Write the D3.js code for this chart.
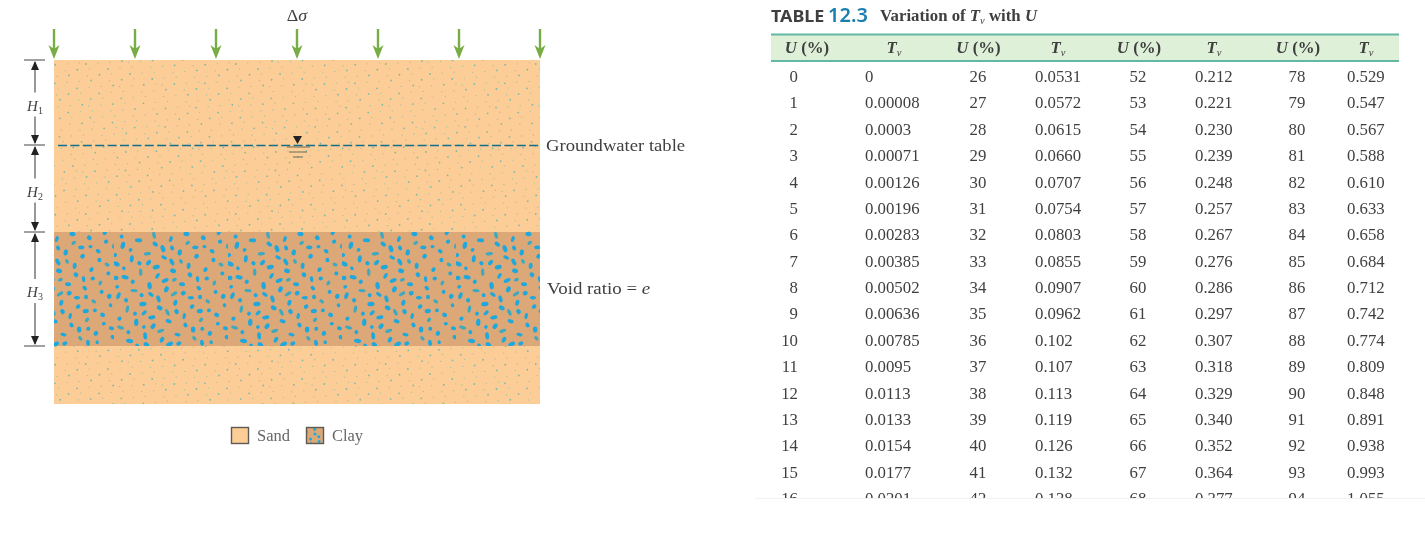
<!DOCTYPE html>
<html>
<head>
<meta charset="utf-8">
<script src="https://cdn.jsdelivr.net/npm/d3@7/dist/d3.min.js"></script>
<style>
body { margin: 0; background: #fff; }
svg { display: block; filter: blur(0.45px); }
text { font-family: "Liberation Serif", serif; fill: #3f3f3f; }
</style>
</head>
<body>
<div id="chart"></div>
<script>
// soil profile, thickness of each layer
const layerNames = ["H1", "H2", "H3", "bottom"];
const layerThickness = [85, 87, 114, 58];
const layerLabels = ["1", "2", "3"];
const loadArrows = [0, 1, 2, 3, 4, 5, 6];
const legendItems = ["Sand", "Clay"];

// table 12.3
const headerLabels = ["U (%)", "Tv", "U (%)", "Tv", "U (%)", "Tv", "U (%)", "Tv"];
const u1 = ["0","1","2","3","4","5","6","7","8","9","10","11","12","13","14","15","16"];
const tv1 = ["0","0.00008","0.0003","0.00071","0.00126","0.00196","0.00283","0.00385","0.00502","0.00636","0.00785","0.0095","0.0113","0.0133","0.0154","0.0177","0.0201"];
const u2 = ["26","27","28","29","30","31","32","33","34","35","36","37","38","39","40","41","42"];
const tv2 = ["0.0531","0.0572","0.0615","0.0660","0.0707","0.0754","0.0803","0.0855","0.0907","0.0962","0.102","0.107","0.113","0.119","0.126","0.132","0.138"];
const u3 = ["52","53","54","55","56","57","58","59","60","61","62","63","64","65","66","67","68"];
const tv3 = ["0.212","0.221","0.230","0.239","0.248","0.257","0.267","0.276","0.286","0.297","0.307","0.318","0.329","0.340","0.352","0.364","0.377"];
const u4 = ["78","79","80","81","82","83","84","85","86","87","88","89","90","91","92","93","94"];
const tv4 = ["0.529","0.547","0.567","0.588","0.610","0.633","0.658","0.684","0.712","0.742","0.774","0.809","0.848","0.891","0.938","0.993","1.055"];

const sandColor = "#fccd96";
const clayColor = "#dca878";
const grainColor = "#1fa8dc";
const teal = "#62b8a2";
const stretch = 1.05; // the scan is a bit wider than it is tall

const svg = d3.select("#chart").append("svg")
    .attr("width", 1425)
    .attr("height", 534);

const defs = svg.append("defs");

// grain textures, an even scatter built from the R2 sequence so it looks irregular
function scatter(n, size) {
    return d3.range(n).map(i => ({
        x: ((i + 1) * 0.7548777) % 1 * size,
        y: ((i + 1) * 0.5698403) % 1 * size,
        k: i
    }));
}

const sandTile = defs.append("pattern")
    .attr("id", "sandTile")
    .attr("patternUnits", "userSpaceOnUse")
    .attr("width", 150).attr("height", 150);
sandTile.append("rect").attr("width", 150).attr("height", 150).attr("fill", sandColor);
sandTile.selectAll("circle")
    .data(scatter(280, 150))
    .enter().append("circle")
    .attr("cx", d => d.x)
    .attr("cy", d => d.y)
    .attr("r", d => d.k % 3 == 0 ? 0.9 : 0.65)
    .attr("fill", d => d.k % 3 == 0 ? "#7dbba8" : "#a9c09a");

const clayTile = defs.append("pattern")
    .attr("id", "clayTile")
    .attr("patternUnits", "userSpaceOnUse")
    .attr("width", 114).attr("height", 114)
    .attr("y", 232);
clayTile.append("rect").attr("width", 114).attr("height", 114).attr("fill", clayColor);
clayTile.selectAll("ellipse")
    .data(scatter(108, 114))
    .enter().append("ellipse")
    .attr("rx", d => 2 + (d.k % 4) * 0.55)
    .attr("ry", d => 2.2 - (d.k % 3) * 0.25)
    .attr("transform", d => `translate(${d.x},${d.y}) rotate(${(d.k * 67) % 180})`)
    .attr("fill", d => d.k % 6 == 5 ? "#3fa9bd" : grainColor);

const claySwatch = defs.append("pattern")
    .attr("id", "claySwatch")
    .attr("patternUnits", "userSpaceOnUse")
    .attr("width", 18).attr("height", 17);
claySwatch.append("rect").attr("width", 18).attr("height", 17).attr("fill", clayColor);
claySwatch.selectAll("circle")
    .data(scatter(7, 17))
    .enter().append("circle")
    .attr("cx", d => d.x)
    .attr("cy", d => d.y)
    .attr("r", 1.5)
    .attr("fill", grainColor);

// left diagram
const y = d3.scaleLinear()
    .domain([0, d3.sum(layerThickness)])
    .range([60, 404]);
const x = d3.scaleLinear().domain([0, 1]).range([54, 540]);
const edges = d3.cumsum(layerThickness);
const tops = [0, ...edges];

svg.selectAll("rect.layer")
    .data(layerNames)
    .enter().append("rect")
    .attr("class", "layer")
    .attr("x", x(0))
    .attr("y", (d, i) => y(tops[i]))
    .attr("width", x(1) - x(0))
    .attr("height", (d, i) => y(tops[i + 1]) - y(tops[i]))
    .attr("fill", d => d == "H3" ? "url(#clayTile)" : "url(#sandTile)");

// load arrows
const arrowX = d3.scalePoint().domain(loadArrows).range([54, 540]);
const arrows = svg.append("g").selectAll("g")
    .data(loadArrows)
    .enter().append("g")
    .attr("transform", d => `translate(${arrowX(d)},0)`);
arrows.append("line")
    .attr("y1", 29).attr("y2", 50)
    .attr("stroke", "#78ad45")
    .attr("stroke-width", 2.4);
arrows.append("path")
    .attr("d", "M-5.5,45 L0,49 L5.5,45 L0,59 Z")
    .attr("fill", "#78ad45");

svg.append("text")
    .attr("transform", "translate(297,21) scale(1.12,1)")
    .attr("text-anchor", "middle")
    .style("font-size", "16px")
    .html('Δ<tspan font-style="italic">σ</tspan>');

// groundwater table
svg.append("line")
    .attr("x1", 58).attr("x2", x(1))
    .attr("y1", y(edges[0]) + 0.5).attr("y2", y(edges[0]) + 0.5)
    .attr("stroke", "#126f8c")
    .attr("stroke-width", 1.3)
    .attr("stroke-dasharray", "9,3.4");
svg.append("path")
    .attr("d", "M293,136 L302,136 L297.5,144 Z")
    .attr("fill", "#222");
svg.append("path")
    .attr("d", "M287,147 H310 M289,152 H307 M293,157 H303")
    .attr("stroke", "#6b6a55")
    .attr("stroke-width", 1)
    .attr("fill", "none");

// dimension lines
const dim = svg.append("g");
[0, ...edges.slice(0, 3)].forEach(d => {
    const yy = y(d);
    dim.append("line")
        .attr("x1", 24).attr("x2", 45)
        .attr("y1", yy).attr("y2", yy)
        .attr("stroke", "#444")
        .attr("stroke-width", 1);
});
layerLabels.forEach((label, i) => {
    const top = y(tops[i]), bottom = y(tops[i + 1]);
    const mid = (top + bottom) / 2;
    dim.append("path")
        .attr("d", `M35,${top + 2} V${mid - 10} M35,${mid + 14} V${bottom - 2}`)
        .attr("stroke", "#777")
        .attr("stroke-width", 1.5)
        .attr("fill", "none");
    dim.append("path")
        .attr("d", `M35,${top + 1} L39,${top + 10} L31,${top + 10} Z M35,${bottom - 1} L39,${bottom - 10} L31,${bottom - 10} Z`)
        .attr("fill", "#222");
    dim.append("text")
        .attr("x", 35).attr("y", mid + 8)
        .attr("text-anchor", "middle")
        .style("font-size", "15px")
        .style("font-style", "italic")
        .html(`H<tspan dy="3" font-size="10" font-style="normal">${label}</tspan>`);
});

svg.append("text")
    .attr("transform", "translate(546,151) scale(1.065,1)")
    .style("font-size", "17.5px")
    .text("Groundwater table");
svg.append("text")
    .attr("transform", "translate(547,294) scale(1.08,1)")
    .style("font-size", "17.5px")
    .html('Void ratio = <tspan font-style="italic">e</tspan>');

// legend
const legendX = d3.scaleOrdinal().domain(legendItems).range([231, 306]);
const legend = svg.append("g").selectAll("g")
    .data(legendItems)
    .enter().append("g")
    .attr("transform", d => `translate(${legendX(d)},427)`);
legend.append("rect")
    .attr("x", 0.5).attr("y", 0.5)
    .attr("width", 17).attr("height", 16)
    .attr("fill", d => d == "Sand" ? sandColor : "url(#claySwatch)")
    .attr("stroke", "#5f5a50")
    .attr("stroke-width", 1.4);
legend.append("text")
    .attr("transform", "translate(26,14) scale(1.03,1)")
    .style("fill", "#666")
    .style("font-size", "16px")
    .text(d => d);

// table on the right
svg.append("text")
    .attr("transform", "translate(771,22) scale(1.12,1)")
    .style("font-family", "'Noto Sans', sans-serif")
    .style("font-weight", "700")
    .style("font-size", "16px")
    .text("TABLE");
svg.append("text")
    .attr("x", 828).attr("y", 22)
    .style("font-family", "'Noto Sans', sans-serif")
    .style("font-weight", "600")
    .style("font-size", "20px")
    .style("fill", "#1b7fb0")
    .text("12.3");
svg.append("text")
    .attr("transform", `translate(880,21) scale(${stretch},1)`)
    .style("font-size", "16px")
    .style("font-weight", "700")
    .html('Variation of <tspan font-style="italic">T</tspan><tspan font-style="italic" dy="3" font-size="10" font-weight="400">v</tspan><tspan dy="-3"> with </tspan><tspan font-style="italic">U</tspan>');

svg.append("rect")
    .attr("x", 771).attr("y", 35)
    .attr("width", 628).attr("height", 26)
    .attr("fill", "#dff0d9");
[34.5, 61].forEach(yy => {
    svg.append("line")
        .attr("x1", 771).attr("x2", 1399)
        .attr("y1", yy).attr("y2", yy)
        .attr("stroke", teal)
        .attr("stroke-width", 2.2);
});

const headerX = [807, 894, 978.5, 1058, 1139, 1214, 1298, 1366];
svg.append("g").selectAll("text")
    .data(headerLabels)
    .enter().append("text")
    .attr("transform", (d, i) => `translate(${headerX[i]},53) scale(${stretch},1)`)
    .attr("text-anchor", "middle")
    .style("font-size", "16px")
    .style("font-weight", "700")
    .html(d => d == "Tv"
        ? '<tspan font-style="italic">T</tspan><tspan font-style="italic" dy="3" font-size="10" font-weight="400">v</tspan>'
        : '<tspan font-style="italic">U</tspan> (%)');

defs.append("clipPath").attr("id", "tableClip")
    .append("rect")
    .attr("x", 755).attr("y", 62)
    .attr("width", 670).attr("height", 436);

const rowY = d3.scalePoint().domain(u1).range([82, 504]);
const columns = [
    {values: u1, x: 798, anchor: "end"},
    {values: tv1, x: 865, anchor: "start"},
    {values: u2, x: 978, anchor: "middle"},
    {values: tv2, x: 1035, anchor: "start"},
    {values: u3, x: 1138, anchor: "middle"},
    {values: tv3, x: 1195, anchor: "start"},
    {values: u4, x: 1297, anchor: "middle"},
    {values: tv4, x: 1347, anchor: "start"}
];
const body = svg.append("g").attr("clip-path", "url(#tableClip)");
columns.forEach(col => {
    body.append("g").selectAll("text")
        .data(col.values)
        .enter().append("text")
        .attr("transform", (d, i) => `translate(${col.x},${rowY(u1[i])}) scale(${stretch},1)`)
        .attr("text-anchor", col.anchor)
        .style("font-size", "16px")
        .text(d => d);
});

svg.append("line")
    .attr("x1", 755).attr("x2", 1425)
    .attr("y1", 498.5).attr("y2", 498.5)
    .attr("stroke", "#edf4f1")
    .attr("stroke-width", 1);
</script>
</body>
</html>
